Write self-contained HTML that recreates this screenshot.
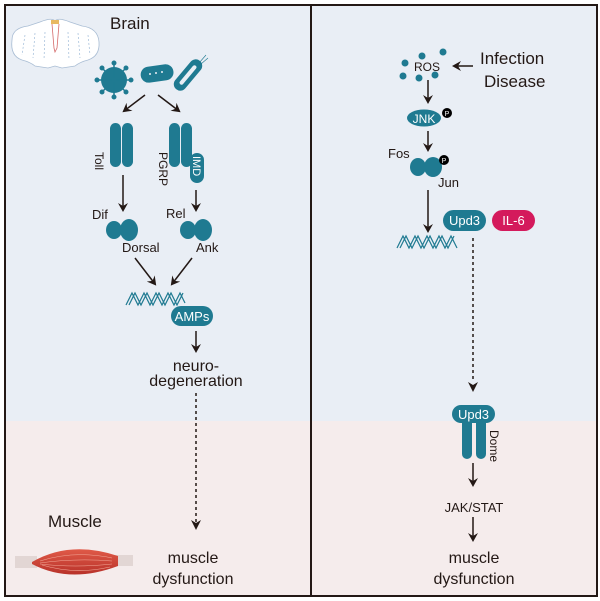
<!DOCTYPE html>
<html><head><style>
html,body{margin:0;padding:0;background:#fff}
svg{display:block;font-family:"Liberation Sans",Arial,sans-serif}
</style></head><body>
<svg width="600" height="601" viewBox="0 0 600 601" xmlns="http://www.w3.org/2000/svg">
<defs>
<marker id="ah" markerWidth="10" markerHeight="10" refX="7" refY="5" orient="auto" markerUnits="userSpaceOnUse">
<path d="M0,0 L9,5 L0,10 L3,5 Z" fill="#231815"/>
</marker>
<linearGradient id="mg" x1="0" y1="0" x2="0" y2="1">
<stop offset="0" stop-color="#e05a48"/><stop offset="1" stop-color="#b8322a"/>
</linearGradient>
</defs>
<rect x="5" y="5" width="592" height="416" fill="#e9eef5"/>
<rect x="5" y="421" width="592" height="175" fill="#f5ecec"/>
<rect x="5" y="5" width="592" height="591" fill="none" stroke="#231815" stroke-width="2"/>
<line x1="311" y1="5" x2="311" y2="596" stroke="#231815" stroke-width="2"/>

<!-- brain -->
<g fill="#fff" stroke="#a9bdd4" stroke-width="0.8">
<path d="M12,40 Q12,28 28,26 L40,22 Q52,17 55,21 Q58,17 70,22 L82,26 Q98,28 99,42 Q100,56 88,60 Q80,62 75,66 L62,68 L55,66 L48,68 L35,66 Q30,62 22,60 Q10,56 12,40Z"/>
</g>
<path d="M52,24 L54,48 L55,52 L57,48 L59,24" fill="none" stroke="#d56a6a" stroke-width="0.8"/>
<rect x="51" y="20" width="8" height="4" fill="#e8b860"/>
<g stroke="#9fbbd8" stroke-width="0.7" stroke-dasharray="2,2"><line x1="25" y1="35" x2="22" y2="55"/><line x1="35" y1="33" x2="33" y2="58"/><line x1="45" y1="32" x2="44" y2="60"/><line x1="68" y1="32" x2="69" y2="60"/><line x1="78" y1="33" x2="80" y2="58"/><line x1="88" y1="35" x2="90" y2="55"/></g>
<text x="110" y="29" font-size="17" fill="#231815">Brain</text>

<!-- pathogens -->
<g fill="#1f7a91" stroke="#1f7a91">
<circle cx="114" cy="80" r="13" stroke="none"/>
<g stroke-width="1.5"><line x1="114" y1="62" x2="114" y2="98"/><line x1="96" y1="80" x2="132" y2="80"/><line x1="101" y1="67" x2="127" y2="93"/><line x1="127" y1="67" x2="101" y2="93"/></g>
<circle cx="114" cy="63" r="2"/><circle cx="114" cy="97" r="2"/><circle cx="97" cy="80" r="2"/><circle cx="131" cy="80" r="2"/><circle cx="102" cy="68" r="2"/><circle cx="126" cy="92" r="2"/><circle cx="126" cy="68" r="2"/><circle cx="102" cy="92" r="2"/>
<rect x="141" y="66" width="32" height="15" rx="7.5" transform="rotate(-8 157 73)"/>
<rect x="170" y="69" width="36" height="12" rx="6" transform="rotate(-50 188 75)"/>
</g>
<g fill="#e9eef5"><circle cx="150" cy="74" r="1"/><circle cx="156" cy="73" r="1"/><circle cx="162" cy="72" r="1"/></g>
<rect x="176" y="73" width="24" height="4" rx="2" fill="#e9eef5" transform="rotate(-50 188 75)"/>
<path d="M199,63 L206,55 M201,64 L208,58" stroke="#1f7a91" stroke-width="0.6"/>

<g stroke="#231815" stroke-width="1.5" fill="none" marker-end="url(#ah)">
<line x1="145" y1="95" x2="124" y2="111"/>
<line x1="158" y1="95" x2="179" y2="111"/>
<line x1="123" y1="175" x2="123" y2="210"/>
<line x1="196" y1="190" x2="196" y2="210"/>
<line x1="135" y1="258" x2="155" y2="284"/>
<line x1="192" y1="258" x2="172" y2="284"/>
<line x1="196" y1="331" x2="196" y2="351"/>
<line x1="428" y1="80" x2="428" y2="102"/>
<line x1="473" y1="66" x2="454" y2="66"/>
<line x1="428" y1="131" x2="428" y2="150"/>
<line x1="428" y1="190" x2="428" y2="231"/>
<line x1="473" y1="463" x2="473" y2="485"/>
<line x1="473" y1="517" x2="473" y2="540"/>
</g>
<g stroke="#231815" stroke-width="1.5" fill="none" stroke-dasharray="3,3">
<line x1="196" y1="393" x2="196" y2="522"/>
<line x1="473" y1="238" x2="473" y2="382"/>
</g>
<path d="M191,520 L196,530 L201,520 L196,523Z" fill="#231815"/>
<path d="M468,382 L473,392 L478,382 L473,385Z" fill="#231815"/>

<!-- receptors -->
<g fill="#1f7a91">
<rect x="110" y="123" width="11" height="44" rx="5.5"/><rect x="122" y="123" width="11" height="44" rx="5.5"/>
<rect x="169" y="123" width="11" height="44" rx="5.5"/><rect x="181" y="123" width="11" height="44" rx="5.5"/>
<rect x="190" y="153" width="14" height="30" rx="7"/>
</g>
<text font-size="12" fill="#231815" transform="translate(95,152) rotate(90)">Toll</text>
<text font-size="12" fill="#231815" transform="translate(159,152) rotate(90)">PGRP</text>
<text font-size="11" fill="#fff" transform="translate(193,156) rotate(90)">IMD</text>

<!-- dimers -->
<g fill="#1f7a91">
<ellipse cx="114" cy="230" rx="8" ry="9"/><ellipse cx="129" cy="230" rx="9" ry="11"/><rect x="118" y="227" width="6" height="6"/>
<ellipse cx="188" cy="230" rx="8" ry="9"/><ellipse cx="203" cy="230" rx="9" ry="11"/><rect x="192" y="227" width="6" height="6"/>
<ellipse cx="418" cy="167" rx="8" ry="9"/><ellipse cx="433" cy="167" rx="9" ry="10"/><rect x="422" y="164" width="6" height="6"/>
</g>
<g font-size="13" fill="#231815">
<text x="92" y="219">Dif</text><text x="122" y="252">Dorsal</text>
<text x="166" y="218">Rel</text><text x="196" y="252">Ank</text>
<text x="388" y="158">Fos</text><text x="438" y="187">Jun</text>
</g>

<!-- DNA -->
<g stroke="#1f7a91" stroke-width="1.2" fill="none">
<path d="M126,305 L132,293 L138,305 L144,293 L150,305 L156,293 L162,305 L168,293 L174,305 L180,293 L185,303"/>
<path d="M129,305 L135,293 L141,305 L147,293 L153,305 L159,293 L165,305 L171,293 L177,305 L183,293"/>
<path d="M397,248 L403,236 L409,248 L415,236 L421,248 L427,236 L433,248 L439,236 L445,248 L451,236 L457,248"/>
<path d="M400,248 L406,236 L412,248 L418,236 L424,248 L430,236 L436,248 L442,236 L448,248 L454,236"/>
</g>
<rect x="171" y="306" width="42" height="20" rx="10" fill="#1f7a91"/>
<text x="192" y="321" font-size="13" fill="#fff" text-anchor="middle">AMPs</text>

<g font-size="16" fill="#231815" text-anchor="middle">
<text x="196" y="371">neuro-</text><text x="196" y="386">degeneration</text>
<text x="193" y="563">muscle</text><text x="193" y="584">dysfunction</text>
<text x="474" y="563">muscle</text><text x="474" y="584">dysfunction</text>
</g>
<text x="48" y="527" font-size="17" fill="#231815">Muscle</text>

<!-- muscle -->
<rect x="15" y="556" width="22" height="12" fill="#e2d6d4"/>
<rect x="112" y="555" width="21" height="11" fill="#e2d6d4"/>
<path d="M32,562 Q70,540 118,556 L118,566 Q70,584 32,564Z" fill="url(#mg)"/>
<g stroke="#f2a898" stroke-width="0.6" fill="none">
<path d="M40,561 Q75,550 112,558"/><path d="M40,563 Q75,558 112,561"/><path d="M40,564 Q75,568 112,564"/><path d="M42,565 Q75,575 110,567"/>
</g>

<!-- right side -->
<g fill="#1f7a91">
<circle cx="405" cy="63" r="3.5"/><circle cx="422" cy="56" r="3.5"/><circle cx="443" cy="52" r="3.5"/>
<circle cx="403" cy="76" r="3.5"/><circle cx="419" cy="78" r="3.5"/><circle cx="435" cy="75" r="3.5"/>
</g>
<text x="427" y="71" font-size="12" fill="#231815" text-anchor="middle">ROS</text>
<text x="480" y="64" font-size="17" fill="#231815">Infection</text>
<text x="484" y="87" font-size="17" fill="#231815">Disease</text>

<ellipse cx="424" cy="118" rx="17" ry="8.5" fill="#1f7a91"/>
<text x="424" y="123" font-size="12" fill="#fff" text-anchor="middle">JNK</text>
<circle cx="447" cy="113" r="5" fill="#000"/><text x="447" y="116" font-size="7" fill="#fff" text-anchor="middle">P</text>
<circle cx="444" cy="160" r="5" fill="#000"/><text x="444" y="163" font-size="7" fill="#fff" text-anchor="middle">P</text>

<rect x="443" y="210" width="43" height="21" rx="10.5" fill="#1f7a91"/>
<text x="464.5" y="225" font-size="13" fill="#fff" text-anchor="middle">Upd3</text>
<rect x="492" y="210" width="43" height="21" rx="10.5" fill="#d41a5c"/>
<text x="513.5" y="225" font-size="13" fill="#fff" text-anchor="middle">IL-6</text>

<g fill="#1f7a91">
<rect x="462" y="412" width="10" height="47" rx="5"/><rect x="476" y="412" width="10" height="47" rx="5"/>
<rect x="452" y="405" width="43" height="18" rx="9"/>
</g>
<text x="473.5" y="419" font-size="13" fill="#fff" text-anchor="middle">Upd3</text>
<text font-size="12" fill="#231815" transform="translate(490,430) rotate(90)">Dome</text>
<text x="474" y="512" font-size="13" fill="#231815" text-anchor="middle">JAK/STAT</text>
</svg>
</body></html>
